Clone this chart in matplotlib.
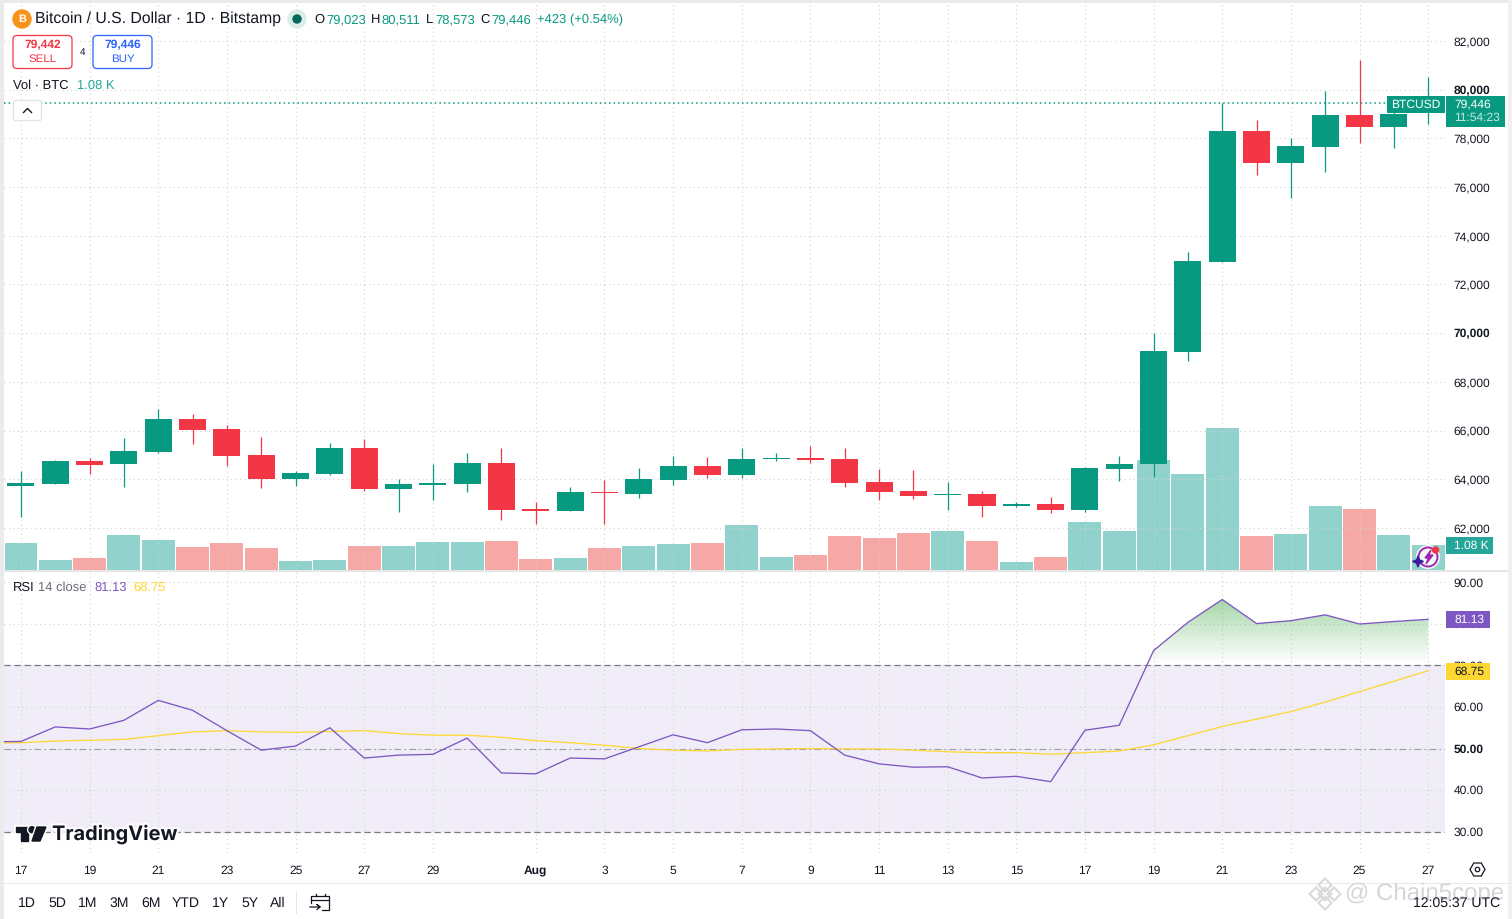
import numpy as np
import matplotlib
matplotlib.use("Agg")
import matplotlib.pyplot as plt
import matplotlib.patheffects as pe
from matplotlib.patches import Circle, FancyBboxPatch, Polygon, Rectangle, RegularPolygon

plt.rcParams['font.family'] = ['Liberation Sans', 'DejaVu Sans']
plt.rcParams['text.hinting'] = 'none'

W, H = 1512, 919

# dias: 0 = 17 jul ... 41 = 27 ago
opens = [63724, 63806, 64751, 64628, 65120, 66476, 66065, 64997, 64011, 64217, 65284, 63601, 63765, 63806,
         64669, 62780, 62698, 63478, 63395, 63970, 64545, 64176, 64832, 64873, 64832, 63888, 63519, 63354,
         63395, 62903, 62985, 62739, 64422, 64628, 69227, 72924, 78304, 76990, 77647, 78961, 78468, 79023]
highs = [64320, 64792, 64873, 65695, 66887, 66681, 66230, 65737, 64340, 65490, 65654, 64011, 64628, 65079,
         65284, 63067, 63683, 63970, 64463, 64956, 64915, 65284, 65079, 65366, 65284, 64422, 64381, 63888,
         63519, 63067, 63272, 64504, 64956, 70008, 73334, 79454, 78756, 78016, 79947, 81220, 79100, 80511]
lows = [62463, 63806, 64217, 63683, 65079, 65449, 64545, 63642, 63724, 64176, 63519, 62657, 63149, 63478,
        62328, 62164, 62698, 62164, 63231, 63765, 64052, 64052, 64751, 64669, 63683, 63149, 63190, 62739,
        62452, 62862, 62616, 62657, 63929, 64093, 68858, 72924, 76497, 75552, 76620, 77811, 77606, 78573]
closes = [63847, 64751, 64587, 65161, 66476, 66024, 64956, 64011, 64258, 65284, 63601, 63806, 63847, 64669,
          62739, 62698, 63478, 63437, 64011, 64545, 64176, 64832, 64873, 64792, 63847, 63478, 63313, 63395,
          62903, 62985, 62739, 64463, 64628, 69268, 72965, 78304, 76990, 77688, 78961, 78468, 79002, 79446]
volumes = [1166, 432, 518, 1512, 1296, 994, 1166, 950, 389, 432, 1037, 1037, 1210, 1210,
           1253, 475, 518, 950, 1037, 1123, 1166, 1944, 562, 648, 1469, 1382, 1598, 1685,
           1253, 346, 562, 2074, 1685, 4752, 4147, 6134, 1469, 1555, 2765, 2635, 1512, 1080]

# RSI empieza un dia antes (16 jul), la linea entra por el borde izquierdo
rsi = [51.6, 51.7, 55.2, 54.7, 56.8, 61.6, 59.2, 54.3, 49.6, 50.6, 55.0, 47.7, 48.4, 48.6, 52.5,
       44.1, 43.9, 47.7, 47.5, 50.4, 53.3, 51.4, 54.5, 54.7, 54.3, 48.4, 46.3, 45.5, 45.6,
       42.9, 43.3, 42.0, 54.4, 55.6, 73.6, 80.4, 85.9, 80.1, 80.8, 82.2, 80.0, 80.6, 81.13]
rsi_ma = [51.3, 51.4, 51.8, 52.0, 52.2, 53.1, 54.0, 54.3, 54.0, 53.9, 54.1, 54.3, 53.6, 53.2, 53.2,
          52.7, 51.9, 51.4, 50.8, 50.0, 49.6, 49.4, 49.8, 49.9, 50.0, 49.9, 49.9, 49.6, 49.2,
          49.0, 49.0, 48.6, 49.0, 49.4, 50.9, 53.1, 55.3, 57.1, 58.9, 61.2, 63.7, 66.2, 68.75]

date_ticks = [0, 2, 4, 6, 8, 10, 12, 15, 17, 19, 21, 23, 25, 27, 29, 31, 33, 35, 37, 39, 41]
date_labels = ['17', '19', '21', '23', '25', '27', '29', 'Aug', '3', '5', '7', '9', '11', '13', '15',
               '17', '19', '21', '23', '25', '27']
price_ticks = [62000, 64000, 66000, 68000, 70000, 72000, 74000, 76000, 78000, 80000, 82000]
rsi_ticks = [30, 40, 50, 60, 70, 80, 90]
range_buttons = ['1D', '5D', '1M', '3M', '6M', 'YTD', '1Y', '5Y', 'All']
range_x = [18, 48, 78, 109, 141, 172, 212, 241, 270]

GREEN = '#089981'
RED = '#F23645'
PURPLE = '#7E57C2'
YELLOW = '#FDD835'
TEAL = '#26A69A'
TEXT = '#131722'
GRID = '#d2d2d2'


def rect_px(left, top, right, bottom):
    return [left / W, 1 - bottom / H, (right - left) / W, (bottom - top) / H]


def px(size):
    return size * 0.72


fig = plt.figure(figsize=(W / 100, H / 100), dpi=100, facecolor='white')

xlim = (-0.495, 41.49)
days = np.arange(len(opens))
dotted = (0, (1, 3))

# --- volumen ---
ax_vol = fig.add_axes(rect_px(4, 3, 1445, 570), zorder=1)
ax_vol.set_xlim(xlim)
ax_vol.set_ylim(0, 24494)
ax_vol.axis('off')
vol_colors = [TEAL if c >= o else '#EF5350' for o, c in zip(opens, closes)]
ax_vol.bar(days, volumes, width=0.96, color=vol_colors, alpha=0.5, linewidth=0)

# --- velas ---
ax = fig.add_axes(rect_px(4, 3, 1445, 570), zorder=2)
ax.patch.set_alpha(0)
ax.set_xlim(xlim)
ax.set_ylim(60274, 83561)
for s in ax.spines.values():
    s.set_visible(False)
ax.set_xticks(date_ticks)
ax.set_xticklabels([])
ax.set_yticks(price_ticks)
ax.set_yticklabels([f'{p:,}' for p in price_ticks])
ax.yaxis.tick_right()
ax.tick_params(length=0)
ax.tick_params(axis='y', pad=6, labelsize=px(12), labelcolor=TEXT)
ax.grid(True, color=GRID, lw=0.8, ls=dotted)
ax.set_axisbelow(True)
for lab, p in zip(ax.get_yticklabels(), price_ticks):
    if p in (70000, 80000):
        lab.set_fontweight('bold')

candle_colors = [GREEN if c >= o else RED for o, c in zip(opens, closes)]
ax.vlines(days, lows, highs, colors=candle_colors, lw=0.9, zorder=3)
ax.bar(days, np.array(closes) - np.array(opens), bottom=opens, width=0.787,
       color=candle_colors, linewidth=0, zorder=4)
ax.axhline(closes[-1], color=GREEN, lw=1.1, ls=(0, (1, 2)), zorder=2)

# --- RSI ---
ax_rsi = fig.add_axes(rect_px(4, 571, 1445, 853), zorder=2)
rsi_days = np.arange(-1, len(opens))
ax_rsi.set_xlim(xlim)
for s in ax_rsi.spines.values():
    s.set_visible(False)
ax_rsi.axhspan(30, 70, color=PURPLE, alpha=0.1, lw=0, zorder=0)
ax_rsi.set_xticks(date_ticks)
ax_rsi.set_xticklabels(date_labels)
ax_rsi.set_yticks(rsi_ticks)
ax_rsi.set_yticklabels([f'{v:.2f}' for v in rsi_ticks])
ax_rsi.yaxis.tick_right()
ax_rsi.tick_params(length=0)
ax_rsi.tick_params(axis='y', pad=6, labelsize=px(12), labelcolor=TEXT)
ax_rsi.tick_params(axis='x', pad=8.5, labelsize=px(12), labelcolor=TEXT)
ax_rsi.grid(True, color=GRID, lw=0.8, ls=dotted)
ax_rsi.set_axisbelow(True)
for lab, v in zip(ax_rsi.get_yticklabels(), rsi_ticks):
    if v == 50:
        lab.set_fontweight('bold')
for lab, t in zip(ax_rsi.get_xticklabels(), date_labels):
    if t == 'Aug':
        lab.set_fontweight('bold')

ax_rsi.axhline(70, color='#787B86', lw=0.9, ls=(0, (5, 3)))
ax_rsi.axhline(30, color='#787B86', lw=0.9, ls=(0, (5, 3)))
ax_rsi.axhline(50, color='#9a9ca6', lw=0.8, ls=(0, (6, 3, 1.5, 3)))

rsi_arr = np.array(rsi)
over = ax_rsi.fill_between(rsi_days, rsi_arr, 70, where=rsi_arr > 70, interpolate=True, color='none', lw=0)
grad = np.zeros((64, 1, 4))
grad[:, :, 0], grad[:, :, 1], grad[:, :, 2] = 76 / 255, 175 / 255, 80 / 255
grad[:, 0, 3] = np.linspace(0.5, 0, 64)
im = ax_rsi.imshow(grad, extent=(xlim[0], xlim[1], 70.5, max(rsi)), origin='upper', aspect='auto', zorder=1)
clip = Polygon(over.get_paths()[0].vertices, transform=ax_rsi.transData)
im.set_clip_path(clip)
ax_rsi.set_xlim(xlim)
ax_rsi.set_ylim(24.82, 92.77)

ax_rsi.plot(rsi_days, rsi_ma, color=YELLOW, lw=0.95, zorder=3)
ax_rsi.plot(rsi_days, rsi, color=PURPLE, lw=0.95, zorder=4)

# --- capa de pixeles: cabecera, etiquetas y botones ---
top = fig.add_axes([0, 0, 1, 1], zorder=10)
top.patch.set_alpha(0)
top.set_xlim(0, W)
top.set_ylim(H, 0)
top.axis('off')


def label(x, y, s, size=13, color=TEXT, ha='left', **kw):
    return top.text(x, y + 1, s, fontsize=px(size), color=color, ha=ha, va='center', **kw)


def box(x0, y0, x1, y1, color):
    top.add_patch(Rectangle((x0, y0), x1 - x0, y1 - y0, facecolor=color, edgecolor='none'))


def rounded(x0, y0, x1, y1, edge, face='white', r=4):
    top.add_patch(FancyBboxPatch((x0 + r, y0 + r), x1 - x0 - 2 * r, y1 - y0 - 2 * r,
                                 boxstyle=f'round,pad={r},rounding_size={r}', facecolor=face,
                                 edgecolor=edge, lw=0.9))


# bordes de la captura y separadores
box(0, 0, 4, H, '#ebebeb')
box(0, 0, W, 3, '#ebebeb')
box(1508, 0, W, H, '#f1f1f1')
box(4, 570, 1508, 571.5, '#e6e6e6')
box(4, 883, 1508, 884, '#e9e9e9')

# titulo y OHLC
top.add_patch(Circle((22, 19), 9, color='#F7931A'))
label(22, 18.5, 'B', size=11, color='white', ha='center', fontweight='bold')
label(35, 18, 'Bitcoin / U.S. Dollar · 1D · Bitstamp', size=15.8)
top.add_patch(Circle((297, 19), 9, color='#DCEDE8'))
top.add_patch(Circle((297, 19), 4, color='#00695C'))
for x_l, let, x_v, val in [(314, 'O', 326, '79,023'), (371, 'H', 381, '80,511'),
                           (426, 'L', 435, '78,573'), (480, 'C', 491, '79,446')]:
    label(x_l, 19, let)
    label(x_v, 19, val, color=GREEN)
label(537, 19, '+423 (+0.54%)', color=GREEN)

# SELL / BUY
rounded(13, 35.5, 72, 68.5, RED)
label(42.5, 44.5, '79,442', size=12, color=RED, ha='center', fontweight='bold')
label(42.5, 58.5, 'SELL', size=11.5, color=RED, ha='center')
label(82.5, 51, '4', size=10, ha='center')
rounded(93, 35.5, 152, 68.5, '#2962FF')
label(122.5, 44.5, '79,446', size=12, color='#2962FF', ha='center', fontweight='bold')
label(122.5, 58.5, 'BUY', size=11.5, color='#2962FF', ha='center')

label(13, 85, 'Vol · BTC')
label(77, 85, '1.08 K', color=TEAL)
rounded(13.5, 100.5, 41.5, 120.5, '#e0e3eb', r=2)
top.plot([23.5, 27.5, 31.5], [112.5, 108.5, 112.5], color=TEXT, lw=1.0)

# etiquetas del eje de precios
box(1387, 96, 1445, 113, GREEN)
label(1416, 103.5, 'BTCUSD', size=12, color='white', ha='center')
box(1446, 96, 1505, 127, GREEN)
label(1454, 103, '79,446', size=12, color='white')
label(1454, 117, '11:54:23', size=12, color='#c5e8e0')
box(1446, 537, 1493, 554, TEAL)
label(1454, 545, '1.08 K', size=12, color='white')
box(1446, 611, 1490, 628, PURPLE)
label(1454, 619, '81.13', size=12, color='white')
box(1446, 663, 1490, 680, YELLOW)
label(1454, 671, '68.75', size=12, color=TEXT)

# leyenda RSI
label(13, 587, 'RSI')
label(38, 587, '14 close', color='#6a6d78')
label(94, 587, '81.13', color=PURPLE)
label(133, 587, '68.75', color=YELLOW)

# logo TradingView
halo = [pe.withStroke(linewidth=3, foreground='white')]
top.add_patch(Polygon([(16, 827), (28, 827), (28, 841), (21, 841), (21, 832), (16, 832)], color='#131722',
                      path_effects=halo))
top.add_patch(Circle((32, 829.7), 3, color='#131722', path_effects=halo))
top.add_patch(Polygon([(37, 827), (46, 827), (40, 841), (32, 841)], color='#131722', path_effects=halo))
label(52, 833.5, 'TradingView', size=20, color='#131722', fontfamily='Inter', fontweight='bold',
      path_effects=halo)

# icono sobre la ultima barra de volumen
top.add_patch(Circle((1428, 557), 12, facecolor='white', edgecolor='none', alpha=0.9))
top.add_patch(Circle((1428, 557), 9.5, facecolor='none', edgecolor='#9C27B0', lw=1.4))
top.add_patch(Polygon([(1431, 550), (1425, 558), (1428.5, 558), (1426, 564), (1433, 555), (1429, 555)],
                      color='#9C27B0'))
top.add_patch(Circle((1435.5, 550), 3, color='#F23645'))
top.add_patch(Polygon([(1418, 556), (1419.5, 560), (1423.5, 561.5), (1419.5, 563), (1418, 567),
                       (1416.5, 563), (1412.5, 561.5), (1416.5, 560)], color='#3A1C9E'))

# barra inferior
for x_b, t in zip(range_x, range_buttons):
    label(x_b, 902, t, size=14)
box(296, 892, 297, 914, '#e6e6e6')
top.plot([311, 311, 329, 329, 322], [903, 896, 896, 910, 910], color=TEXT, lw=0.9)
top.plot([311, 329], [900, 900], color=TEXT, lw=0.9)
top.plot([315.5, 315.5], [893.5, 896], color=TEXT, lw=0.9)
top.plot([324.5, 324.5], [893.5, 896], color=TEXT, lw=0.9)
top.plot([310, 320, 317, 320, 317], [907, 907, 904.5, 907, 909.5], color=TEXT, lw=0.9)
top.add_patch(RegularPolygon((1477.5, 869.5), 6, radius=7.5, orientation=np.pi / 2, fill=False,
                             edgecolor=TEXT, lw=0.9))
top.add_patch(Circle((1477.5, 869.5), 2.2, fill=False, edgecolor=TEXT, lw=0.9))

# marca de agua y hora
for cx, cy in [(1325, 885), (1316, 894), (1334, 894), (1325, 903), (1325, 894)]:
    top.add_patch(RegularPolygon((cx, cy), 4, radius=6.5, fill=False, edgecolor='#d9d9d9', lw=1.5))
label(1345, 892.5, '@ Chain5cope', size=24, color='#d4d6da')
label(1500, 902, '12:05:37 UTC', size=14, ha='right')

fig.savefig('out.png', dpi=100, facecolor='white')
